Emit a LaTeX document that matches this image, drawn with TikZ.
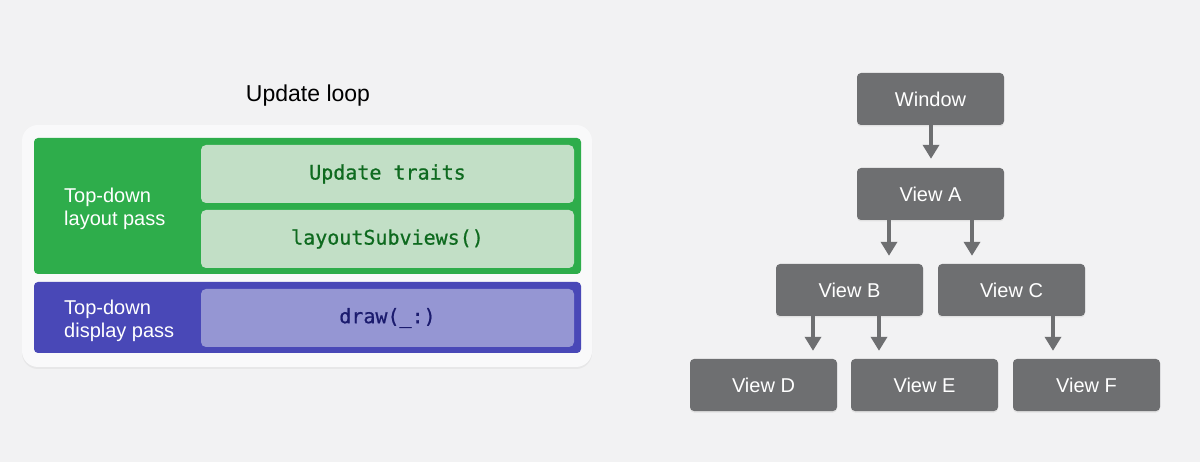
\documentclass[tikz,border=0pt]{standalone}
\usepackage{fontspec}
\setmainfont{Liberation Sans}
\setmonofont[FakeBold=0.8]{DejaVu Sans Mono}
\usetikzlibrary{arrows.meta,shadows}
\definecolor{bgc}{HTML}{F2F2F3}
\definecolor{contc}{HTML}{F9F9FA}
\definecolor{greenc}{HTML}{2EAD4B}
\definecolor{lgreenc}{HTML}{C2DFC6}
\definecolor{dgreenc}{HTML}{0E6A1F}
\definecolor{bluec}{HTML}{4948B7}
\definecolor{lbluec}{HTML}{9596D3}
\definecolor{dbluec}{HTML}{1B1B6E}
\definecolor{grayc}{HTML}{6E6F71}
\tikzset{
  container/.style={fill=contc, rounded corners=16pt, minimum width=570pt, minimum height=242pt, inner sep=0pt,
    drop shadow={shadow xshift=0pt, shadow yshift=-2pt, opacity=0.12, fill=black!40}},
  passbox/.style={rounded corners=4pt, minimum width=547pt, inner sep=0pt},
  stepbox/.style={rounded corners=5pt, minimum width=373pt, minimum height=58pt, inner sep=0pt,
    font=\ttfamily\fontsize{20}{24}\selectfont},
  passlabel/.style={anchor=west, align=left, text=white, inner sep=0pt, font=\fontsize{20}{23}\selectfont},
  graybox/.style={fill=grayc, rounded corners=4pt, minimum width=147pt, minimum height=52pt, inner sep=0pt,
    text=white, font=\fontsize{20}{24}\selectfont,
    drop shadow={shadow xshift=0pt, shadow yshift=-1.5pt, opacity=0.15, fill=black!50}},
  arr/.style={draw=grayc, line width=4pt, -{Triangle[width=16pt,length=14pt]}}
}
\begin{document}
\begin{tikzpicture}[x=1pt,y=-1pt]
\fill[bgc] (0,0) rectangle (1200,462);
\useasboundingbox (0,0) rectangle (1200,462);

% Left: update loop
\node[font=\fontsize{23}{28}\selectfont, inner sep=0pt] (title) at (308,96) {Update loop};
\node[container] (loop) at (307,246) {};
\node[passbox, fill=greenc, minimum height=136pt] (layout) at (307.5,206) {};
\node[stepbox, fill=lgreenc, text=dgreenc] (traits) at (387.5,174) {\raisebox{-1.5pt}{Update traits}};
\node[stepbox, fill=lgreenc, text=dgreenc] (subviews) at (387.5,239) {\raisebox{-1.5pt}{layoutSubviews()}};
\node[passlabel] (layoutlbl) at (64,208.5) {Top-down\\layout pass};
\node[passbox, fill=bluec, minimum height=71pt] (display) at (307.5,317.5) {};
\node[stepbox, fill=lbluec, text=dbluec] (drawstep) at (387.5,318) {\raisebox{-1.5pt}{draw(\_:)}};
\node[passlabel] (displaylbl) at (64,320.5) {Top-down\\display pass};

% Right: view tree
\node[graybox] (win) at (930.5,99) {Window};
\node[graybox] (va) at (930.5,194) {View A};
\node[graybox] (vb) at (849.5,290) {View B};
\node[graybox] (vc) at (1011.5,290) {View C};
\node[graybox] (vd) at (763.5,385) {View D};
\node[graybox] (ve) at (924.5,385) {View E};
\node[graybox] (vf) at (1086.5,385) {View F};

\coordinate (wa) at ([xshift=0.5pt]win.south);
\coordinate (ab) at ([xshift=-41.5pt]va.south);
\coordinate (ac) at ([xshift=41.5pt]va.south);
\coordinate (bd) at ([xshift=-36.5pt]vb.south);
\coordinate (be) at ([xshift=29.5pt]vb.south);
\coordinate (cf) at ([xshift=41.5pt]vc.south);

\draw[arr, shorten >=9pt] (wa) -- (wa |- va.north);
\draw[arr, shorten >=8pt] (ab) -- (ab |- vb.north);
\draw[arr, shorten >=8pt] (ac) -- (ac |- vc.north);
\draw[arr, shorten >=8pt] (bd) -- (bd |- vd.north);
\draw[arr, shorten >=8pt] (be) -- (be |- ve.north);
\draw[arr, shorten >=8pt] (cf) -- (cf |- vf.north);
\end{tikzpicture}
\end{document}
